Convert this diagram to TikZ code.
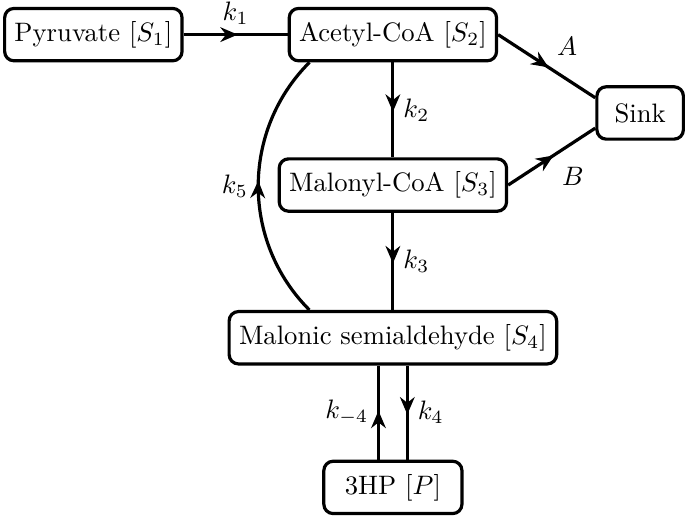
\documentclass[tikz,border=0pt]{standalone}
\usepackage{amsmath}
\usepackage{tikz}
\usetikzlibrary{arrows.meta,positioning,calc,decorations.markings}

\begin{document}
\begin{tikzpicture}[
  box/.style={draw,rounded corners=3.5pt,align=center,minimum height=6.9mm,inner xsep=3.7pt,line width=1.2pt},
  flow/.style={line width=1.2pt,postaction={decorate},
    decoration={markings,mark=at position 0.52 with {\arrow{Stealth[length=6.5pt,width=5.5pt]}}}}]
\node[box] (acetyl) {Acetyl-CoA [$S_2$]};
\node[box,left=13.7mm of acetyl] (pyr) {Pyruvate [$S_1$]};
\node[box,below=12.5mm of acetyl] (malonyl) {Malonyl-CoA [$S_3$]};
\node[box,below=12.8mm of malonyl] (semi) {Malonic semialdehyde [$S_4$]};
\node[box,below=12.4mm of semi,minimum width=18.2mm] (hp) {3HP [$P$]};
\node[box,below right=3mm and 12.8mm of acetyl,minimum width=11.4mm] (sink) {Sink};
\useasboundingbox ($(pyr.north west)+(-0.04,0.09)$) rectangle ++(8.885,-6.615);
\draw[flow] (pyr) -- node[above] {$k_1$} (acetyl);
\draw[flow] (acetyl) -- node[right] {$k_2$} (malonyl);
\draw[flow] (malonyl) -- node[right] {$k_3$} (semi);
\draw[flow] ([xshift=0.19cm]semi.south) -- node[right] {$k_4$} ([xshift=0.19cm]hp.north);
\draw[flow] ([xshift=-0.19cm]hp.north) -- node[left] {$k_{-4}$} ([xshift=-0.19cm]semi.south);
\draw[flow] ([xshift=-1.1cm]semi.north) to[bend left=45] node[left] {$k_5$} ([xshift=-1.1cm]acetyl.south);
\draw[flow] (acetyl.east) -- node[above right] {$A$} ([yshift=0.2cm]sink.west);
\draw[flow] (malonyl.east) -- node[below right] {$B$} ([yshift=-0.2cm]sink.west);
\end{tikzpicture}
\end{document}
